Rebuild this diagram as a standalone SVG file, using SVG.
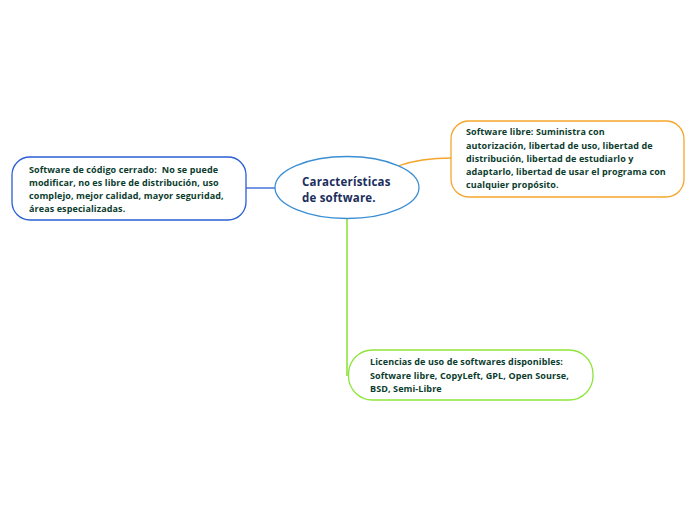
<svg xmlns="http://www.w3.org/2000/svg" width="696" height="520" viewBox="0 0 696 520">
<style>
.t{font-family:"Open Sans","Noto Sans","DejaVu Sans",sans-serif;font-size:9px;font-weight:bold;fill:#0b3d2e;letter-spacing:0.1px}
.c{font-family:"Open Sans","Noto Sans","DejaVu Sans",sans-serif;font-size:11.5px;font-weight:bold;fill:#1b2e5c;letter-spacing:0.2px}
.n{fill:#fff;stroke-width:1.3}
</style>
<rect width="696" height="520" fill="#fff"/>
<g id="connectors" fill="none" stroke-width="1.3">
<line x1="246" y1="188" x2="276" y2="188" stroke="#2a5fd6"/>
<path d="M398,166 Q420,158 452,158" stroke="#f5a62a"/>
<path d="M347,218 L347,376" stroke="#8ee53a" stroke-width="1.6"/>
</g>
<g id="center">
<ellipse class="n" cx="347" cy="187.5" rx="72" ry="31" stroke="#3a8fd4"/>
<text class="c" x="302" y="186">Características</text>
<text class="c" x="302" y="202">de software.</text>
</g>
<g id="closed">
<rect class="n" x="12" y="157" width="234" height="63" rx="18" stroke="#2a5fd6"/>
<text class="t" x="29" y="173">Software de código cerrado:&#160; No se puede</text>
<text class="t" x="29" y="186">modificar, no es libre de distribución, uso</text>
<text class="t" x="29" y="199">complejo, mejor calidad, mayor seguridad,</text>
<text class="t" x="29" y="212">áreas especializadas.</text>
</g>
<g id="libre">
<rect class="n" x="451" y="121" width="233" height="76" rx="18" stroke="#f5a62a"/>
<text class="t" x="466" y="135">Software libre: Suministra con</text>
<text class="t" x="466" y="148.5">autorización, libertad de uso, libertad de</text>
<text class="t" x="466" y="162">distribución, libertad de estudiarlo y</text>
<text class="t" x="466" y="175">adaptarlo, libertad de usar el programa con</text>
<text class="t" x="466" y="188">cualquier propósito.</text>
</g>
<g id="licencias">
<rect class="n" x="348.5" y="350" width="244.5" height="50" rx="24" stroke="#8ee53a"/>
<text class="t" x="370" y="365">Licencias de uso de softwares disponibles:</text>
<text class="t" x="370" y="378.5">Software libre, CopyLeft, GPL, Open Sourse,</text>
<text class="t" x="370" y="391.5">BSD, Semi-Libre</text>
</g>
</svg>
